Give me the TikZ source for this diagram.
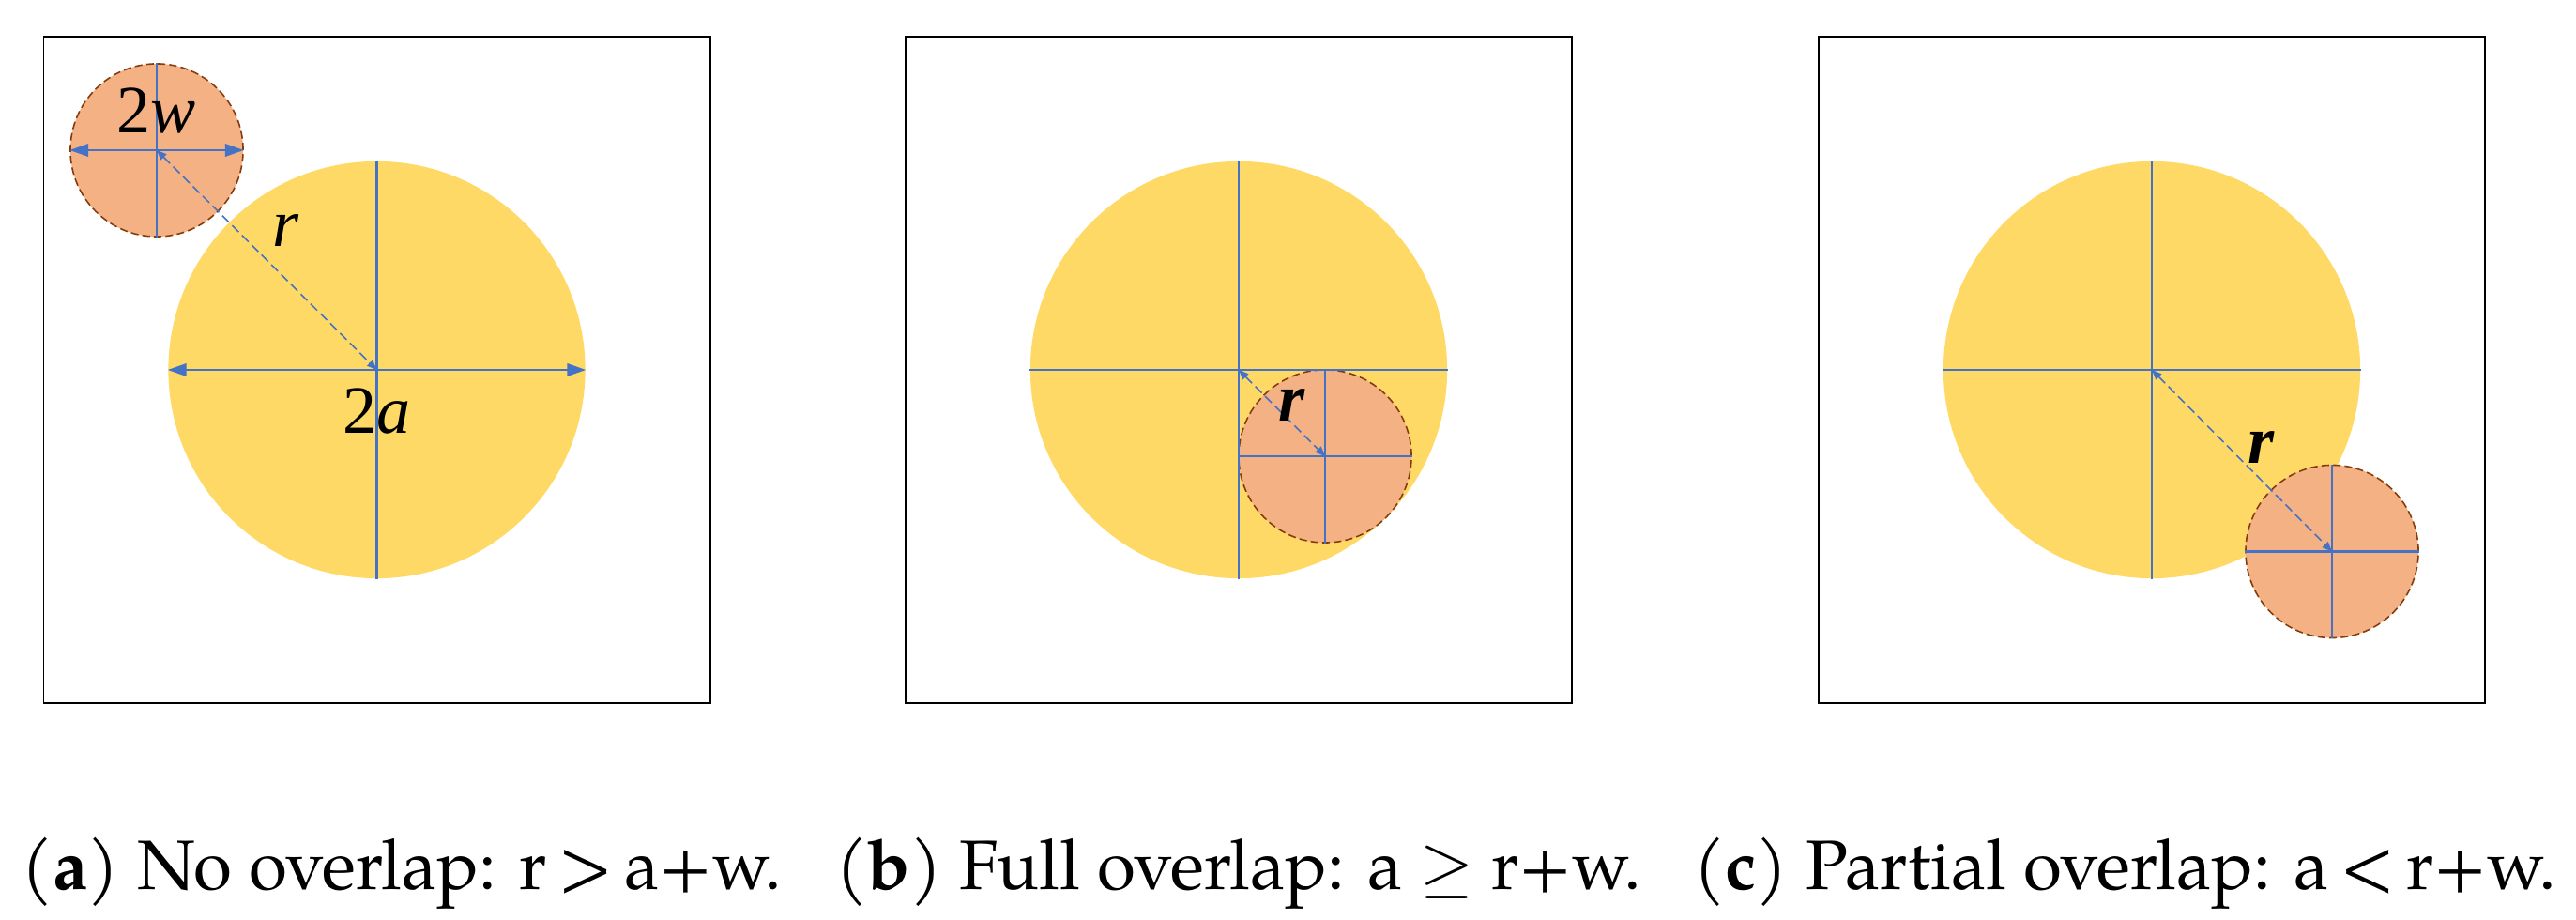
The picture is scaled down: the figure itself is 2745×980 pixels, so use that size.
\documentclass[tikz,border=0pt]{standalone}
\usepackage{fontspec}
\setmainfont{texgyrepagella}[Extension=.otf, UprightFont=*-regular, BoldFont=*-bold, ItalicFont=*-italic, BoldItalicFont=*-bolditalic]
\newfontfamily\lblfont{Liberation Serif}
\usetikzlibrary{arrows.meta}
\definecolor{gold}{HTML}{FFD966}
\definecolor{salmon}{HTML}{F4B183}
\definecolor{lineblue}{HTML}{4472C4}
\definecolor{rim}{HTML}{843C0C}
\tikzset{
  panel/.style={draw=black, line width=0.45pt},
  bigc/.style={circle, fill=gold, minimum size=4.44cm, inner sep=0pt},
  smallc/.style={circle, fill=salmon, draw=rim, line width=0.45pt, dash pattern=on 2.3pt off 1.2pt, minimum size=1.84cm, inner sep=0pt},
  axis/.style={draw=lineblue, line width=0.7pt},
  dim/.style={axis, {Triangle[length=5.7pt,width=3.8pt]}-{Triangle[length=5.7pt,width=3.8pt]}},
  rad/.style={draw=lineblue, line width=0.45pt, dash pattern=on 2.8pt off 1.4pt, {Triangle[length=3pt,width=2.4pt]}-{Triangle[length=3pt,width=2.4pt]}},
  lbl/.style={font=\lblfont\fontsize{20.5}{24}\selectfont, inner sep=0pt},
  captext/.style={font=\fontsize{21.2}{26}\selectfont, inner sep=0pt}
}
\begin{document}
\begin{tikzpicture}[x=0.01cm, y=-0.01cm]
\useasboundingbox (0,0) rectangle (2745,980);
% ---------- panel (a)
\node[panel, minimum width=7.1cm, minimum height=7.1cm, inner sep=0pt] (pa) at (401.5,394) {};
\node[bigc] (A1) at (401.5,394) {};
\node[smallc] (W1) at (167,160) {};
\draw[axis] (A1.north) -- (A1.south);
\draw[dim] (A1.west) -- (A1.east);
\draw[axis] (W1.north) -- (W1.south);
\draw[dim] (W1.west) -- (W1.east);
\draw[rad] (W1.center) -- (A1.center);
\node[lbl] (l2w) at (167,118) {2\textit{w}};
\node[lbl] (lr1) at (305,246) {\textit{r}};
\node[lbl] (l2a) at (401.5,438) {2\textit{a}};
% ---------- panel (b)
\node[panel, minimum width=7.1cm, minimum height=7.1cm, inner sep=0pt] (pb) at (1320,394) {};
\node[bigc] (A2) at (1320,394) {};
\node[smallc] (W2) at (1412,486) {};
\draw[axis] (A2.north) -- (A2.south);
\draw[axis] (A2.west) -- (A2.east);
\draw[axis] (W2.north) -- (W2.south);
\draw[axis] (W2.west) -- (W2.east);
\draw[rad] (A2.center) -- (W2.center);
\node[lbl] (lr2) at (1377,432) {\textbf{\textit{r}}};
% ---------- panel (c)
\node[panel, minimum width=7.1cm, minimum height=7.1cm, inner sep=0pt] (pc) at (2293,394) {};
\node[bigc] (A3) at (2293,394) {};
\draw[axis] (A3.north) -- (A3.south);
\draw[axis] (A3.west) -- (A3.east);
\node[smallc] (W3) at (2485,587.5) {};
\draw[axis] (W3.north) -- (W3.south);
\draw[axis] (W3.west) -- (W3.east);
\draw[rad] (A3.center) -- (W3.center);
\node[lbl] (lr3) at (2410,477) {\textbf{\textit{r}}};
% ---------- captions
\node[captext, anchor=base west] (ca) at (22,948) {(\textbf{a}) No overlap: r\,>\,a+w.};
\node[captext, anchor=base west] (cb) at (890,948) {(\textbf{b}) Full overlap: a $\geq$ r+w.};
\node[captext, anchor=base east] (cc) at (2725,948) {(\textbf{c}) Partial overlap: a\,<\,r+w.};
\end{tikzpicture}
\end{document}
